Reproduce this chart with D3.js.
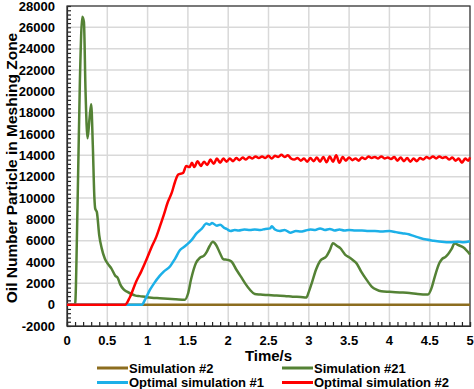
<!DOCTYPE html>
<html>
<head>
<meta charset="utf-8">
<script src="https://cdn.jsdelivr.net/npm/d3@7"></script>
<style>
  body { margin: 0; background: #fff; }
  text { font-family: "Liberation Sans", Arial, sans-serif; }
</style>
</head>
<body>
<div class="app"></div>
<script>
// Chart data: [time (s), particle count]
var sim2 = [[0, 0], [5, 0]];

var sim21 = [[0, 0], [0.1, 0], [0.13, 9000], [0.16, 21000], [0.19, 27000], [0.21, 26500], [0.23, 20000],
    [0.255, 15600], [0.28, 17500], [0.3, 18800], [0.32, 15000], [0.34, 10000], [0.35, 9000], [0.37, 8700],
    [0.4, 6500], [0.43, 5300], [0.47, 4300], [0.51, 3800], [0.55, 3400], [0.6, 2700], [0.63, 2500],
    [0.66, 1900], [0.7, 1450], [0.75, 1200], [0.8, 1000], [0.85, 850], [0.9, 800], [0.99, 700],
    [1.05, 650], [1.15, 600], [1.25, 550], [1.35, 500], [1.46, 450], [1.5, 1000], [1.54, 2400],
    [1.6, 3900], [1.65, 4400], [1.7, 4600], [1.73, 4900], [1.77, 5500], [1.81, 5900], [1.85, 5600],
    [1.9, 4800], [1.94, 4250], [1.99, 4200], [2.04, 4050], [2.1, 3300], [2.16, 2600], [2.21, 2000],
    [2.27, 1400], [2.33, 1000], [2.4, 950], [2.5, 900], [2.6, 850], [2.7, 820], [2.8, 750], [2.9, 720],
    [2.97, 680], [3.0, 1200], [3.04, 2100], [3.09, 3300], [3.14, 4100], [3.22, 4550], [3.26, 5100],
    [3.3, 5750], [3.35, 5500], [3.39, 5300], [3.45, 4700], [3.51, 4400], [3.56, 4100], [3.59, 3900],
    [3.65, 3100], [3.72, 2300], [3.78, 1700], [3.84, 1400], [3.9, 1250], [4.0, 1200], [4.13, 1150],
    [4.25, 1100], [4.35, 1000], [4.48, 950], [4.52, 1500], [4.57, 2800], [4.62, 3900], [4.65, 4250],
    [4.7, 4500], [4.73, 4750], [4.77, 5200], [4.81, 5750], [4.85, 5600], [4.92, 5350], [5.0, 4700]];

var optimal1 = [[0, 0], [0.93, 0], [0.97, 500], [1.03, 1400], [1.08, 2000], [1.15, 2700], [1.2, 3100],
    [1.28, 3600], [1.34, 4300], [1.4, 5100], [1.45, 5400], [1.49, 5650], [1.55, 6100], [1.61, 6700],
    [1.67, 7100], [1.73, 7600], [1.77, 7500], [1.8, 7650], [1.86, 7400], [1.9, 7500], [1.95, 7200],
    [1.98, 7100], [2.03, 6900], [2.08, 7000], [2.13, 6950], [2.2, 7050], [2.27, 7000], [2.33, 7050],
    [2.4, 7000], [2.46, 7100], [2.52, 7150], [2.54, 7350], [2.58, 7050], [2.64, 6900], [2.7, 7000],
    [2.77, 6750], [2.84, 6900], [2.9, 6850], [2.96, 6950], [3.02, 7050], [3.08, 7000], [3.14, 7150],
    [3.2, 7000], [3.26, 7100], [3.32, 6950], [3.38, 7050], [3.44, 6950], [3.5, 7000], [3.58, 6950],
    [3.66, 6950], [3.74, 6900], [3.82, 6900], [3.9, 6850], [4.0, 6900], [4.08, 6800], [4.16, 6700],
    [4.24, 6600], [4.3, 6450], [4.38, 6250], [4.46, 6100], [4.55, 6000], [4.65, 5900], [4.75, 5850],
    [4.85, 5900], [4.92, 5850], [5.0, 5950]];

var optimal2 = [[0, 0], [0.72, 0], [0.78, 700], [0.86, 2200], [0.92, 3100], [0.99, 4300], [1.05, 5400],
    [1.11, 6400], [1.16, 7500], [1.2, 8400], [1.25, 9600], [1.3, 10500], [1.34, 11500], [1.38, 12200],
    [1.44, 12350], [1.48, 13000], [1.52, 12900], [1.55, 13300], [1.58, 12900], [1.62, 13450],
    [1.66, 13000], [1.7, 13400], [1.74, 13100], [1.78, 13600], [1.82, 13200], [1.86, 13700],
    [1.9, 13300], [1.94, 13700], [1.98, 13400], [2.02, 13700], [2.06, 13450], [2.1, 13750],
    [2.14, 13550], [2.18, 13800], [2.22, 13600], [2.26, 13850], [2.3, 13700], [2.34, 13900],
    [2.38, 13750], [2.42, 13900], [2.46, 13750], [2.5, 13950], [2.54, 13700], [2.58, 13950],
    [2.62, 13850], [2.66, 14050], [2.7, 13850], [2.74, 14000], [2.78, 13700], [2.82, 13600],
    [2.86, 13750], [2.9, 13500], [2.94, 13700], [2.98, 13400], [3.02, 13750], [3.06, 13450],
    [3.1, 13800], [3.14, 13400], [3.18, 13850], [3.22, 13350], [3.26, 13900], [3.3, 13400],
    [3.34, 14000], [3.38, 13300], [3.42, 13850], [3.46, 13500], [3.5, 13800], [3.54, 13550],
    [3.58, 13700], [3.62, 13500], [3.66, 13800], [3.7, 13650], [3.74, 13900], [3.78, 13750],
    [3.82, 13850], [3.86, 13700], [3.9, 13900], [3.94, 13700], [3.98, 13800], [4.02, 13650],
    [4.06, 13850], [4.1, 13500], [4.14, 13800], [4.18, 13450], [4.22, 13750], [4.26, 13400],
    [4.3, 13700], [4.34, 13450], [4.38, 13750], [4.42, 13600], [4.46, 13850], [4.5, 13700],
    [4.54, 13900], [4.58, 13700], [4.62, 13900], [4.66, 13750], [4.7, 13850], [4.74, 13600],
    [4.78, 13800], [4.82, 13500], [4.86, 13700], [4.9, 13300], [4.94, 13700], [4.98, 13500], [5.0, 13800]];

var seriesNames = ["Simulation #2", "Simulation #21", "Optimal simulation #1", "Optimal simulation #2"];
var seriesColors = ["#8c6d1f", "#548235", "#1cb0e8", "#ff0000"];
var xTicks = [0, 0.5, 1, 1.5, 2, 2.5, 3, 3.5, 4, 4.5, 5];
var yTicks = [-2000, 0, 2000, 4000, 6000, 8000, 10000, 12000, 14000, 16000, 18000, 20000, 22000, 24000, 26000, 28000];

// layout
var margin = {top: 6, right: 4, bottom: 63, left: 67},
    W = 474, H = 389,
    width = W - margin.left - margin.right,
    height = H - margin.top - margin.bottom;

var svg = d3.select(".app").append("svg")
    .attr("width", W)
    .attr("height", H);

var x = d3.scaleLinear().domain([0, 5]).range([0, width]),
    y = d3.scaleLinear().domain([-2000, 28000]).range([height, 0]);

var g = svg.append("g")
    .attr("transform", "translate(" + margin.left + "," + margin.top + ")");

// grid
g.append("g").selectAll("line.gx")
    .data(xTicks)
    .enter().append("line")
    .attr("x1", function(d){ return x(d); })
    .attr("x2", function(d){ return x(d); })
    .attr("y1", 0).attr("y2", height)
    .attr("stroke", "#d9d9d9").attr("stroke-width", 1.5);

g.append("g").selectAll("line.gy")
    .data(yTicks)
    .enter().append("line")
    .attr("y1", function(d){ return y(d); })
    .attr("y2", function(d){ return y(d); })
    .attr("x1", 0).attr("x2", width)
    .attr("stroke", "#d9d9d9").attr("stroke-width", 1.5);

// minor ticks (inward)
var xMinor = d3.range(0, 5.001, 0.1);
var yMinor = d3.range(-2000, 28001, 400);

var xAxis = d3.axisBottom(x).tickValues(xMinor).tickSize(-4).tickFormat("");
var yAxis = d3.axisLeft(y).tickValues(yMinor).tickSize(-4).tickFormat("");

g.append("g")
    .attr("class", "axis axis--x")
    .attr("transform", "translate(0," + height + ")")
    .call(xAxis);
g.append("g")
    .attr("class", "axis axis--y")
    .call(yAxis);

g.selectAll(".axis path, .axis line")
    .attr("stroke", "#222").attr("stroke-width", 1.2);

// tick labels
g.append("g").selectAll("text")
    .data(xTicks)
    .enter().append("text")
    .attr("x", function(d){ return x(d); })
    .attr("y", height + 19)
    .attr("text-anchor", "middle")
    .style("font-size", "13px").style("font-weight", "bold")
    .text(function(d){ return d; });

g.append("g").selectAll("text")
    .data(yTicks)
    .enter().append("text")
    .attr("x", -12)
    .attr("y", function(d){ return y(d); })
    .attr("dy", "0.35em")
    .attr("text-anchor", "end")
    .style("font-size", "13px").style("font-weight", "bold")
    .text(function(d){ return d; });

// frame
g.append("rect")
    .attr("width", width).attr("height", height)
    .attr("fill", "none").attr("stroke", "#333").attr("stroke-width", 1.2);

// lines
var line = d3.line()
    .x(function(d){ return x(d[0]); })
    .y(function(d){ return y(d[1]); })
    .curve(d3.curveMonotoneX);

var allSeries = [sim2, sim21, optimal1, optimal2];
allSeries.forEach(function(s, i){
    g.append("path")
        .datum(s)
        .attr("d", line)
        .attr("fill", "none")
        .attr("stroke", seriesColors[i])
        .attr("stroke-width", 2.5)
        .attr("stroke-linejoin", "round");
});

// axis titles
svg.append("text")
    .attr("x", margin.left + width / 2)
    .attr("y", 361)
    .attr("text-anchor", "middle")
    .style("font-size", "15px").style("font-weight", "bold")
    .text("Time/s");

svg.append("text")
    .attr("transform", "translate(17,168) rotate(-90)")
    .attr("text-anchor", "middle")
    .style("font-size", "15.5px").style("font-weight", "bold")
    .text("Oil Number Particle in Meshing Zone");

// legend
var legendPos = [[97, 368], [282, 368], [97, 382.5], [282, 382.5]];
seriesNames.forEach(function(name, i){
    var p = legendPos[i];
    svg.append("line")
        .attr("x1", p[0]).attr("x2", p[0] + 31)
        .attr("y1", p[1]).attr("y2", p[1])
        .attr("stroke", seriesColors[i]).attr("stroke-width", 3);
    svg.append("text")
        .attr("x", p[0] + 32)
        .attr("y", p[1])
        .attr("dy", "0.36em")
        .style("font-size", "13px").style("font-weight", "bold")
        .text(name);
});
</script>
</body>
</html>
